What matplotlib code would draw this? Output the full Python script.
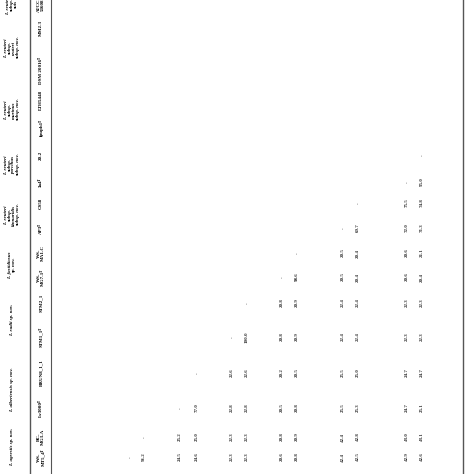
import matplotlib; matplotlib.use("Agg")
import matplotlib.pyplot as plt

plt.rcParams['font.family'] = ['Liberation Serif', 'DejaVu Serif']

# strains (table columns, shown rotated)
STRAINS = ["WS-\nMT5_4ᵀ", "BC-\nMG3-A", "Lv3000ᵀ", "BRUN8_1_1", "STM1_1ᵀ", "STM2_1",
           "WS-\nMG7-1ᵀ", "WS-\nMA1-C", "AP3ᵀ", "CS58", "3a4ᵀ", "20-2",
           "lpuph1ᵀ", "LTH5448", "DSM 20016ᵀ", "MM2-3", "ATCC\n53608"]
SPECIES = ["L. agrestis sp. nov.", "L. albertensis sp. nov.", "L. rudii sp. nov.",
           "L. fastidiosus\nsp. nov.", "L. reuteri\nsubsp.\nkinnaridis\nsubsp. nov.",
           "L. reuteri\nsubsp.\nporcinus\nsubsp. nov.", "L. reuteri\nsubsp.\nmurinus\nsubsp. nov.",
           "L. reuteri\nsubsp.\nreuteri\nsubsp. nov.", "L. reuteri\nsubsp.\nsuis"]
# identity values; None = diagonal dash
VALUES = [
    [None, 91.2, 24.5, 24.6, 22.3, 22.3, 20.6, 20.8, 42.4, 42.5, 42.9, 42.6],
    [None, 25.2, 25.0, 22.3, 22.3, 20.8, 20.9, 42.4, 42.8, 43.0, 43.1],
    [None, 77.0, 22.8, 22.8, 20.5, 20.8, 25.5, 25.3, 24.7, 25.1],
    [None, 22.6, 22.6, 20.2, 20.5, 25.5, 25.0, 24.7, 24.7],
    [None, 100.0, 20.8, 20.9, 22.4, 22.4, 22.3, 22.3],
    [None, 20.8, 20.9, 22.4, 22.4, 22.3, 22.3],
    [None, 98.6, 20.5, 20.4, 20.6, 20.4],
    [None, 20.5, 20.4, 20.6, 21.1],
    [None, 69.7, 72.0, 71.3],
    [None, 75.5, 74.8],
    [None, 95.0],
    [None],
]

strain_y = [457, 437, 408, 373, 337, 303, 277, 253, 228, 203, 182, 155, 127, 100, 70, 28, 5]
species_y = [447, 390, 320, 265, 215, 165, 110, 48, 5]
row_x = [130, 144, 180, 197, 232, 247, 282, 297, 343, 358, 407, 422]

fig = plt.figure(figsize=(4.74, 4.74), dpi=100)
ax = fig.add_axes([0, 0, 1, 1])
ax.set_xlim(0, 474); ax.set_ylim(474, 0); ax.axis("off")

for sp, y in zip(SPECIES, species_y):
    ax.text(12, y, sp, rotation=90, ha="center", va="center", fontsize=3.6,
            fontweight="bold", style="italic", linespacing=0.9)
for st, y in zip(STRAINS, strain_y):
    ax.text(41, y, st, rotation=90, ha="center", va="center", fontsize=3.6,
            fontweight="bold", linespacing=0.9)

for i, row in enumerate(VALUES):
    y = strain_y[i]
    for j, v in enumerate(row):
        x = row_x[i + j]
        s = "-" if v is None else f"{v:.1f}"
        ax.text(x, y, s, rotation=90, ha="center", va="center", fontsize=3.6,
                fontweight="bold", color="#333333")

for x, lw in [(30, 1.0), (51, 0.8), (463, 1.0)]:
    ax.plot([x, x], [0, 474], color="#555555", lw=lw)

fig.savefig("out.png", dpi=100)
